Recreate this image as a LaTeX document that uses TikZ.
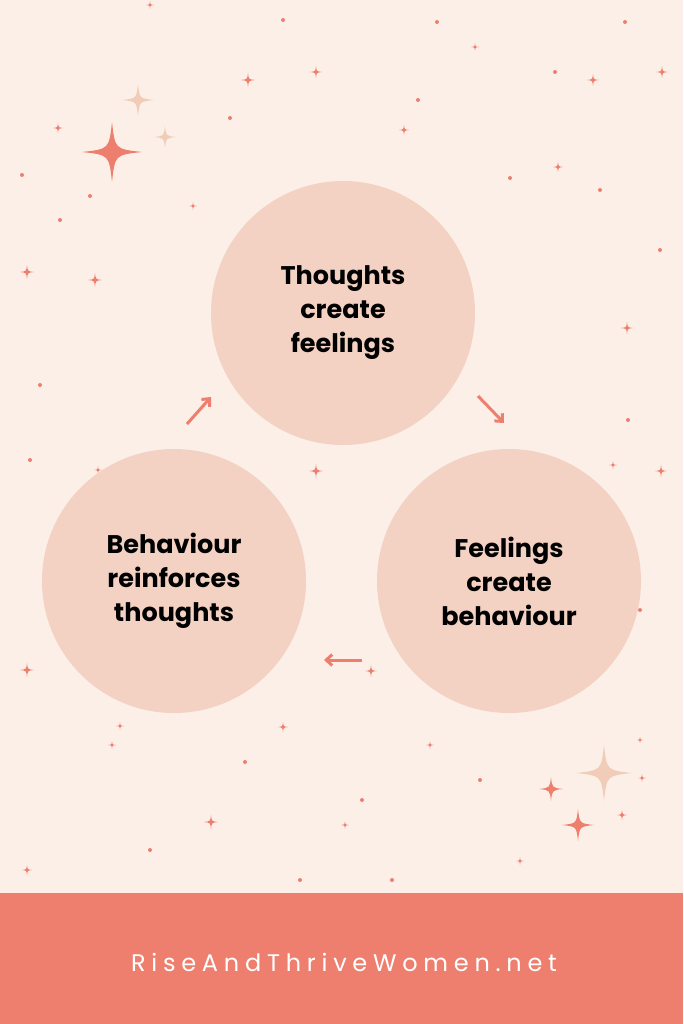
\documentclass[tikz,border=0pt]{standalone}
\usetikzlibrary{arrows.meta}
\usepackage{fontspec}
\setmainfont{Poppins}
\definecolor{bg}{HTML}{FCEFE7}
\definecolor{circ}{HTML}{F4D2C3}
\definecolor{sal}{HTML}{EE7F6E}
\definecolor{lite}{HTML}{F1CDB9}
\begin{document}
\begin{tikzpicture}[x=1pt,y=-1pt,
  bubble/.style={circle,fill=circ,minimum size=264pt,inner sep=0pt,align=center,font=\bfseries\fontsize{25.5}{34}\selectfont},
  arr/.style={draw=sal,line width=3pt,-{Straight Barb[length=6pt,width=11pt]}},
  spark/.pic={\fill (0,-1) .. controls (0.1,-0.1) .. (1,0) .. controls (0.1,0.1) .. (0,1) .. controls (-0.1,0.1) .. (-1,0) .. controls (-0.1,-0.1) .. (0,-1) -- cycle;}]
\fill[bg] (0,0) rectangle (683,1024);
\useasboundingbox (0,0) rectangle (683,1024);
% sparkles
\foreach \x/\y/\s in {112/152/30,27/272/7,95/280/7,248/80/7,316/72/6,404/130/5,662/72/6,593/80/6,558/167/5,193/206/4,627/328/6,316/471/7,661/471/6,27/670/7,371/671/6,283/727/5,211/822/7,551/789/12,578/825/16,622/815/5,642/778/4,520/861/4,27/870/5,475/47/4,150/5/4,613/465/4,98/470/4,58/128/5,120/726/4,345/825/4,640/740/3,112/745/4,430/745/4}
  \pic[sal,scale=\s] at (\x,\y) {spark};
\foreach \x/\y/\s in {138/100/16,165/137/11,604/773/28}
  \pic[lite,scale=\s] at (\x,\y) {spark};
% dots
\foreach \x/\y in {283/20,437/22,555/72,625/22,60/220,40/385,628/420,575/560,245/762,540/705,300/880,418/100,510/178,22/175,90/196,230/118,362/800,560/660,600/190,660/250,30/460,150/850,392/880,640/610,480/780}
  \fill[sal] (\x,\y) circle (2pt);
\node[bubble] (t) at (343,313) {Thoughts\\create\\feelings};
\node[bubble] (b) at (174,581) {Behaviour\\reinforces\\thoughts};
\node[bubble] (f) at (509,581) {Feelings\\create\\behaviour};
\coordinate (a1) at (187,424); \coordinate (a2) at (211,397);
\coordinate (b1) at (478,396); \coordinate (b2) at (504,423);
\coordinate (c1) at (362,660); \coordinate (c2) at (324,660);
\draw[arr] (a1) -- (a2);
\draw[arr] (b1) -- (b2);
\draw[arr] (c1) -- (c2);
\fill[sal] (0,893) rectangle (683,1024);
\node[text=white,font=\fontsize{24}{26}\selectfont\addfontfeature{LetterSpace=24}] (url) at (344,962) {RiseAndThriveWomen.net};
\end{tikzpicture}
\end{document}
